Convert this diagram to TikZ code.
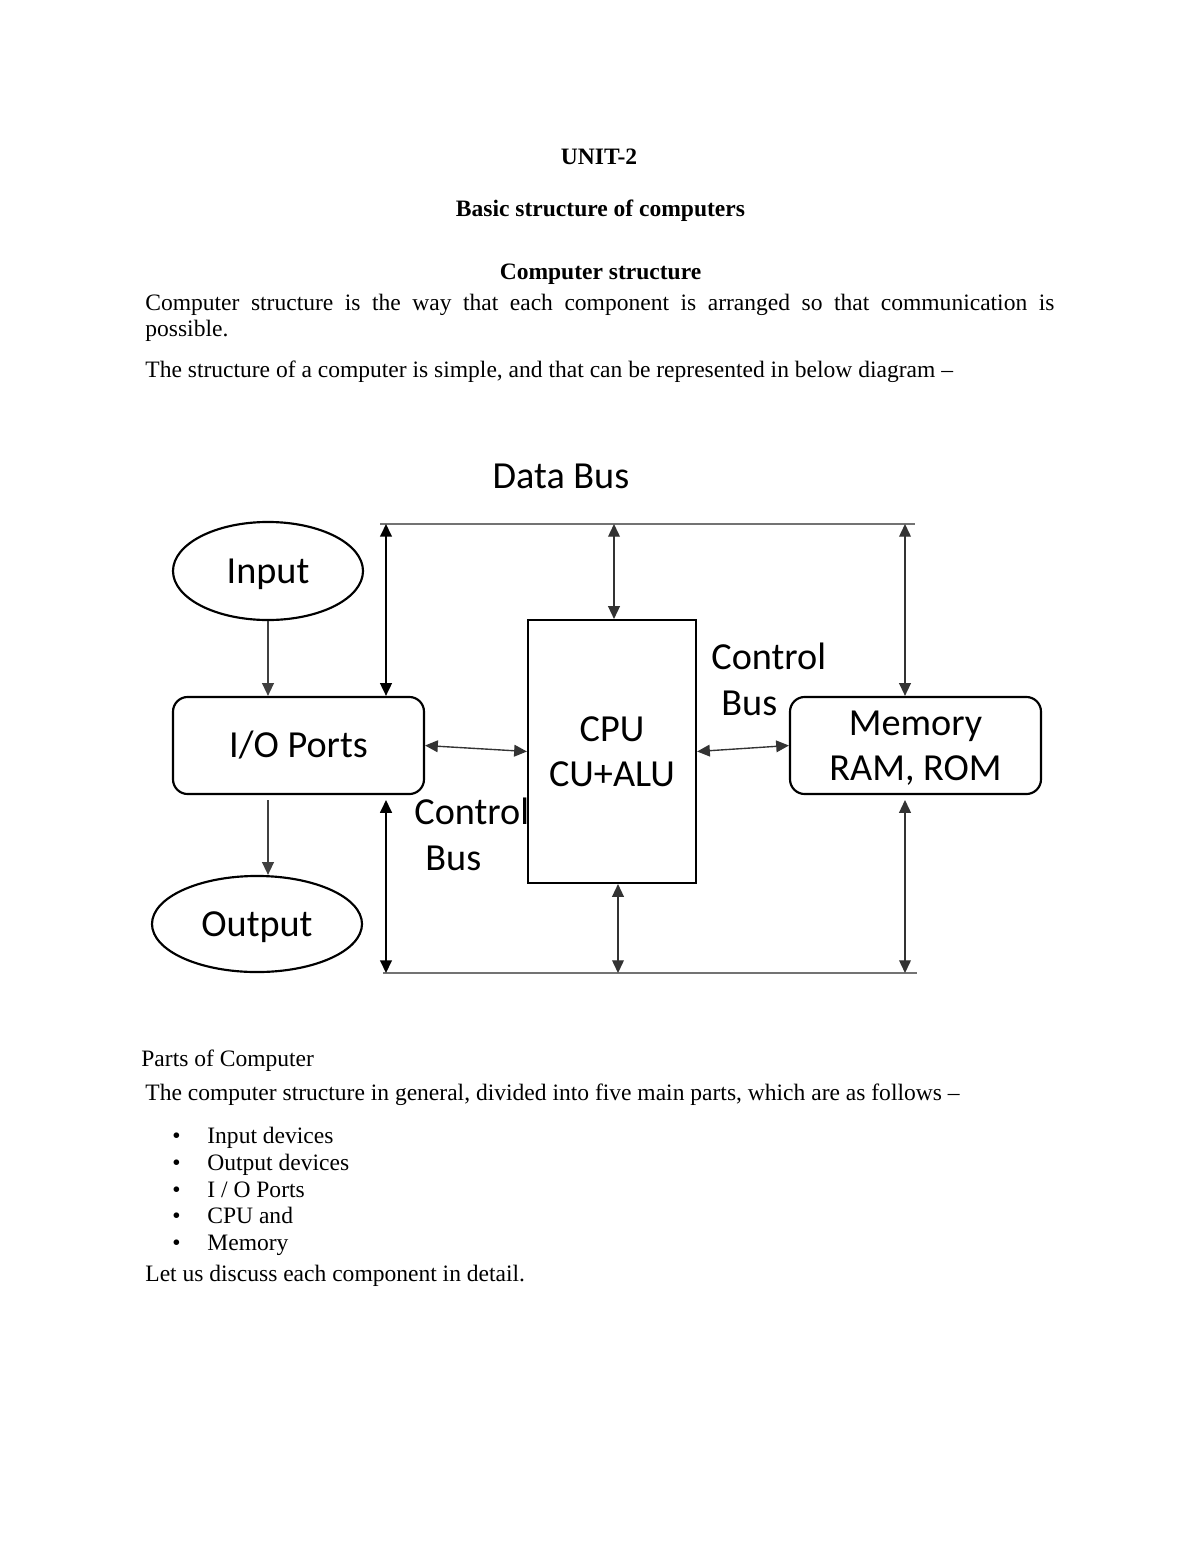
\documentclass[tikz,border=0pt]{standalone}
\usepackage{fontspec}
\setmainfont{Liberation Serif}
\newfontfamily\diagfont{Carlito}
\usetikzlibrary{shapes.geometric,arrows.meta}
\tikzset{
  body/.style={inner sep=0pt, anchor=base west, font=\fontsize{12}{14}\selectfont},
  title/.style={inner sep=0pt, anchor=base, font=\fontsize{12}{14}\selectfont\bfseries},
  dlabel/.style={inner sep=0pt, font=\diagfont\fontsize{19.5}{23}\selectfont},
  oneline/.style={text height=12.5pt, text depth=0pt},
  twoline/.style={align=center, text height=35.5pt, text depth=0pt},
  shapeline/.style={draw=black, line width=1.1pt, inner sep=0pt},
  conn/.style={line width=0.7pt, draw=black!80, {Triangle[length=6.5pt,width=6pt]}-{Triangle[length=6.5pt,width=6pt]}},
  oneway/.style={line width=0.7pt, draw=black!75, -{Triangle[length=6.5pt,width=6pt]}},
  busline/.style={line width=0.8pt, draw=black!55},
}
\begin{document}
\begin{tikzpicture}[x=0.51pt,y=-0.51pt]
\useasboundingbox (0,0) rectangle (1200,1553);
\fill[white] (0,0) rectangle (1200,1553);

% ---- text above ----
\node[title] (unit) at (599,165) {UNIT-2};
\node[title] (basic) at (600.5,216) {Basic structure of computers};
\node[title] (cstruct) at (600.5,279) {Computer structure};
\node[body] (para1) at (145,310) {\makebox[463.6pt][s]{Computer structure is the way that each component is arranged so that communication is}};
\node[body] (para2) at (145,336) {possible.};
\node[body] (para3) at (145,377) {The structure of a computer is simple, and that can be represented in below diagram --};

% ---- diagram ----
\node[dlabel] (databus) at (561,476) {Data Bus};

\node[dlabel, oneline, shapeline, ellipse, minimum width=96.9pt, minimum height=50pt] (input) at (268,571) {Input};
\node[dlabel, oneline, shapeline, rounded corners=7.5pt, rectangle, minimum width=128pt, minimum height=49.5pt] (io) at (298.5,745.5) {I/O Ports};
\node[dlabel, twoline, shapeline, rectangle, minimum width=85.7pt, minimum height=134.1pt] (cpu) at (612,751.5) {CPU\\CU+ALU};
\node[dlabel, twoline, shapeline, rounded corners=7.5pt, rectangle, minimum width=128pt, minimum height=49.5pt] (mem) at (915.5,745.5) {Memory\\RAM, ROM};
\node[dlabel, oneline, shapeline, ellipse, minimum width=107.1pt, minimum height=49pt] (output) at (257,924) {Output};

\node[dlabel, anchor=base west] (ctrlR) at (711,669) {Control};
\node[dlabel, anchor=base west] (busR) at (721,715) {Bus};
\node[dlabel, anchor=base west] (ctrlL) at (414,824) {Control};
\node[dlabel, anchor=base west] (busL) at (425,870) {Bus};

% bus coordinates
\coordinate (tbL) at (380,524);
\coordinate (tbR) at (915,524);
\coordinate (bbL) at (383,973);
\coordinate (bbR) at (917,973);
\coordinate (t1) at (386,524);
\coordinate (t2) at (614,524);
\coordinate (t3) at (905,524);
\coordinate (b1) at (386,973);
\coordinate (b2) at (618,973);
\coordinate (b3) at (905,973);
\coordinate (b1s) at (386,800);
\coordinate (b3s) at (905,800);
\coordinate (ios) at (268,800);

\draw[busline] (tbL) -- (tbR);
\draw[busline] (bbL) -- (bbR);

\draw[oneway] (input.south) -- (input.south |- io.north);
\draw[oneway] (ios) -- (ios |- output.north);

\draw[conn, line width=0.9pt, draw=black] (t1) -- (t1 |- io.north);
\draw[conn] (t2) -- (t2 |- cpu.north);
\draw[conn] (t3) -- (t3 |- mem.north);

\draw[conn] (io.east) -- (cpu.west);
\draw[conn] (cpu.east) -- (mem.west);

\draw[conn, line width=0.9pt, draw=black] (b1s) -- (b1);
\draw[conn] (b2 |- cpu.south) -- (b2);
\draw[conn] (b3s) -- (b3);

% ---- text below ----
\node[body] (parts) at (141,1066) {Parts of Computer};
\node[body] (general) at (145,1100) {The computer structure in general, divided into five main parts, which are as follows --};
\node[body] (d1) at (172,1143) {\textbullet};
\node[body] (i1) at (207,1143) {Input devices};
\node[body] (d2) at (172,1170) {\textbullet};
\node[body] (i2) at (207,1170) {Output devices};
\node[body] (d3) at (172,1197) {\textbullet};
\node[body] (i3) at (207,1197) {I / O Ports};
\node[body] (d4) at (172,1223) {\textbullet};
\node[body] (i4) at (207,1223) {CPU and};
\node[body] (d5) at (172,1250) {\textbullet};
\node[body] (i5) at (207,1250) {Memory};
\node[body] (letus) at (145,1281) {Let us discuss each component in detail.};
\end{tikzpicture}
\end{document}
